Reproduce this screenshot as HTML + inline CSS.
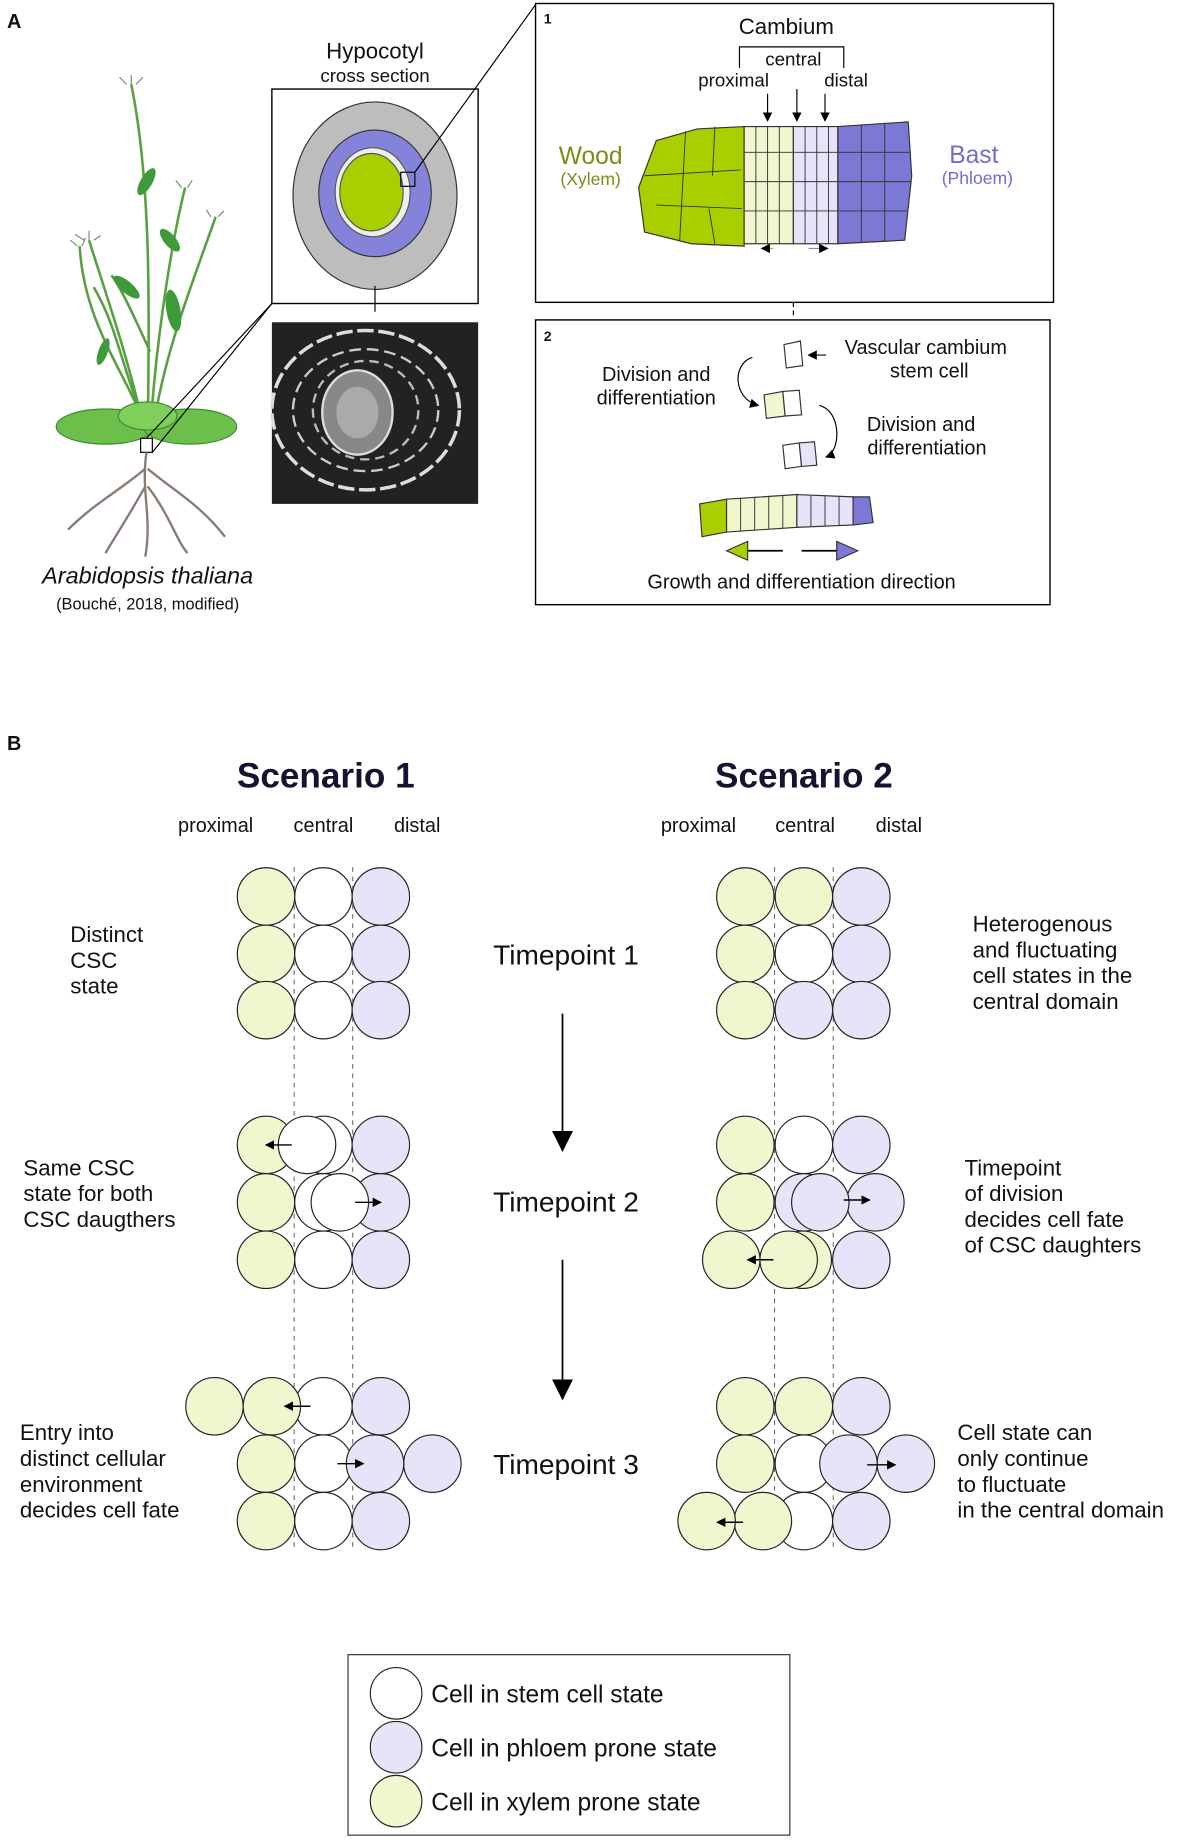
<!DOCTYPE html>
<html><head><meta charset="utf-8"><style>
html,body{margin:0;padding:0;background:#fff}
svg{display:block}
text{font-family:"Liberation Sans",sans-serif;fill:#111}
</style></head><body>
<svg width="1200" height="1841" viewBox="0 0 1024 1571" preserveAspectRatio="none" xmlns="http://www.w3.org/2000/svg">
<defs>
<marker id="ah" markerWidth="8" markerHeight="8" refX="7" refY="4" orient="auto" markerUnits="userSpaceOnUse"><path d="M0,0 L8,4 L0,8 z" fill="#000"/></marker>
<marker id="big" markerWidth="18" markerHeight="24" refX="17" refY="9" orient="auto" markerUnits="userSpaceOnUse"><path d="M0,0 L18,9 L0,18 z" fill="#000"/></marker>
</defs>
<rect width="1024" height="1571" fill="#fff"/>
<text x="6" y="24" font-size="17" font-weight="bold">A</text>
<text x="6" y="640" font-size="17" font-weight="bold">B</text>

<!-- plant -->
<g stroke="#5aa042" stroke-width="2.2" fill="none">
<path d="M126,370 C128,250 128,150 112,72"/>
<path d="M128,370 C134,280 148,200 158,160"/>
<path d="M124,370 C108,300 90,250 76,205"/>
<path d="M126,370 C110,320 72,280 68,210"/>
<path d="M130,370 C140,300 165,240 184,185"/>
<path d="M128,300 C110,260 100,240 95,235"/>
<path d="M126,370 C100,300 100,280 80,245"/>
</g>
<g stroke="#7a8a70" stroke-width="1" fill="none">
<path d="M108,72 l-6,-6 M112,72 l0,-8 M116,72 l6,-6 M72,205 l-8,-5 M76,205 l0,-8 M80,205 l6,-4 M155,160 l-5,-6 M160,160 l4,-6 M180,185 l-4,-6 M186,185 l5,-5 M66,210 l-6,-5 M70,210 l3,-7"/>
</g>
<g fill="#3f9a3b">
<ellipse cx="125" cy="155" rx="5" ry="13" transform="rotate(30 125 155)"/>
<ellipse cx="145" cy="205" rx="5" ry="12" transform="rotate(-40 145 205)"/>
<ellipse cx="148" cy="265" rx="6" ry="18" transform="rotate(-10 148 265)"/>
<ellipse cx="108" cy="245" rx="5" ry="14" transform="rotate(-50 108 245)"/>
<ellipse cx="88" cy="300" rx="4" ry="12" transform="rotate(20 88 300)"/>
</g>
<g fill="#6cbf4a" stroke="#3e8a33" stroke-width="1">
<ellipse cx="90" cy="364" rx="42" ry="15"/>
<ellipse cx="162" cy="364" rx="40" ry="15"/>
<ellipse cx="126" cy="355" rx="25" ry="12" fill="#7fcf5a"/>
</g>
<rect x="120" y="374" width="10" height="12" fill="none" stroke="#000"/>
<g stroke="#8a7a72" stroke-width="2" fill="none">
<path d="M125,386 C120,420 130,440 124,475"/>
<path d="M124,400 C100,420 80,430 58,452"/>
<path d="M126,400 C150,420 170,430 192,458"/>
<path d="M124,415 C110,440 100,455 90,472"/>
<path d="M126,415 C145,440 150,460 160,472"/>
</g>
<text x="126" y="498" font-size="20" font-style="italic" text-anchor="middle">Arabidopsis thaliana</text>
<text x="126" y="520" font-size="14" text-anchor="middle">(Bouché, 2018, modified)</text>

<!-- cross section -->
<text x="320" y="50" font-size="19" text-anchor="middle">Hypocotyl</text>
<text x="320" y="70" font-size="16" text-anchor="middle">cross section</text>
<rect x="232" y="76" width="176" height="183" fill="#fff" stroke="#000" stroke-width="1.2"/>
<ellipse cx="320" cy="167" rx="70" ry="80" fill="#bdbdbd" stroke="#333"/>
<ellipse cx="320" cy="165" rx="48" ry="54" fill="#8583d9" stroke="#333"/>
<ellipse cx="318" cy="164" rx="32" ry="38" fill="#eee" stroke="#555"/>
<ellipse cx="317" cy="164" rx="27" ry="33" fill="#a8cf00" stroke="#555"/>
<rect x="342" y="147" width="12" height="12" fill="none" stroke="#000"/>
<line x1="354" y1="147" x2="457" y2="4" stroke="#000"/>
<line x1="232" y1="259" x2="125" y2="374" stroke="#000"/>
<line x1="232" y1="259" x2="130" y2="386" stroke="#000"/>
<line x1="320" y1="244" x2="320" y2="266" stroke="#000"/>
<rect x="232" y="275" width="176" height="155" fill="#222"/>
<ellipse cx="312" cy="350" rx="80" ry="68" fill="none" stroke="#ddd" stroke-width="3" stroke-dasharray="14 4"/>
<ellipse cx="312" cy="350" rx="62" ry="52" fill="none" stroke="#ccc" stroke-width="2" stroke-dasharray="10 5"/>
<ellipse cx="312" cy="350" rx="45" ry="42" fill="none" stroke="#bbb" stroke-width="2" stroke-dasharray="8 5"/>
<ellipse cx="305" cy="352" rx="30" ry="36" fill="#888" stroke="#ddd" stroke-width="2"/>
<ellipse cx="305" cy="352" rx="18" ry="22" fill="#aaa"/>

<!-- box 1 -->
<rect x="457" y="3" width="442" height="255" fill="#fff" stroke="#000" stroke-width="1.2"/>
<text x="464" y="20" font-size="12" font-weight="bold">1</text>
<text x="671" y="29" font-size="19" text-anchor="middle">Cambium</text>
<path d="M631,58 V40 H720 V58" fill="none" stroke="#000"/>
<text x="677" y="56" font-size="16" text-anchor="middle">central</text>
<text x="626" y="74" font-size="16" text-anchor="middle">proximal</text>
<text x="722" y="74" font-size="16" text-anchor="middle">distal</text>
<line x1="655" y1="80" x2="655" y2="103" stroke="#000" marker-end="url(#ah)"/>
<line x1="680" y1="76" x2="680" y2="103" stroke="#000" marker-end="url(#ah)"/>
<line x1="704" y1="80" x2="704" y2="103" stroke="#000" marker-end="url(#ah)"/>
<text x="504" y="140" font-size="21" text-anchor="middle" style="fill:#7f8a18">Wood</text>
<text x="504" y="158" font-size="15" text-anchor="middle" style="fill:#7f8a18">(Xylem)</text>
<text x="831" y="139" font-size="21" text-anchor="middle" style="fill:#6f6cd4">Bast</text>
<text x="834" y="157" font-size="15" text-anchor="middle" style="fill:#6f6cd4">(Phloem)</text>
<path d="M560,120 L595,110 L635,108 L635,210 L590,208 L550,198 L545,160 Z" fill="#a8d000" stroke="#333"/>
<g stroke="#333" fill="none" stroke-width="0.8">
<path d="M585,112 L580,205 M550,150 L632,145 M560,175 L633,178 M610,108 L608,150 M605,178 L610,208"/>
</g>
<rect x="635" y="108" width="42" height="100" fill="#f1f6cf" stroke="#333"/>
<rect x="677" y="108" width="38" height="100" fill="#e9e3f9" stroke="#333"/>
<path d="M715,108 L775,104 L778,150 L772,205 L715,208 Z" fill="#7b78d6" stroke="#333"/>
<g stroke="#333" stroke-width="0.8">
<path d="M645,108V208 M655,108V208 M665,108V208 M687,108V208 M697,108V208 M707,108V208 M635,130H715 M635,155H715 M635,180H715"/>
<path d="M735,106V207 M755,105V206 M715,130H776 M715,155H777 M715,180H774" fill="none"/>
</g>
<line x1="660" y1="212" x2="650" y2="212" stroke="#a8d000" marker-end="url(#ah)"/>
<line x1="690" y1="212" x2="706" y2="212" stroke="#7b78d6" marker-end="url(#ah)"/>
<line x1="677" y1="258" x2="677" y2="272" stroke="#000" stroke-dasharray="4 3"/>

<!-- box 2 -->
<rect x="457" y="273" width="439" height="243" fill="#fff" stroke="#000" stroke-width="1.2"/>
<text x="464" y="291" font-size="12" font-weight="bold">2</text>
<text x="790" y="302" font-size="17" text-anchor="middle">Vascular cambium</text>
<text x="793" y="322" font-size="17" text-anchor="middle">stem cell</text>
<path d="M669,294 L683,291 L685,312 L671,314 Z" fill="#fff" stroke="#333"/>
<line x1="705" y1="303" x2="690" y2="303" stroke="#000" marker-end="url(#ah)"/>
<text x="560" y="325" font-size="17" text-anchor="middle">Division and</text>
<text x="560" y="345" font-size="17" text-anchor="middle">differentiation</text>
<path d="M642,305 C625,310 625,340 647,346" fill="none" stroke="#000" marker-end="url(#ah)"/>
<path d="M652,337 L668,334 L670,355 L654,357 Z" fill="#f1f6cf" stroke="#333"/>
<path d="M668,334 L682,333 L684,354 L670,355 Z" fill="#fff" stroke="#333"/>
<path d="M699,346 C718,350 718,385 705,390" fill="none" stroke="#000" marker-end="url(#ah)"/>
<text x="786" y="368" font-size="17" text-anchor="middle">Division and</text>
<text x="791" y="388" font-size="17" text-anchor="middle">differentiation</text>
<path d="M668,380 L682,378 L684,398 L670,400 Z" fill="#fff" stroke="#333"/>
<path d="M682,378 L695,377 L697,397 L684,398 Z" fill="#e9e3f9" stroke="#333"/>
<path d="M597,430 L620,426 L620,454 L599,458 Z" fill="#a8d000" stroke="#333"/>
<path d="M620,426 L680,422 L680,450 L620,454 Z" fill="#f1f6cf" stroke="#333"/>
<path d="M680,422 L728,424 L728,448 L680,450 Z" fill="#e9e3f9" stroke="#333"/>
<path d="M728,424 L742,424 L745,446 L728,448 Z" fill="#7b78d6" stroke="#333"/>
<g stroke="#333" stroke-width="0.8"><path d="M632,425V453 M644,424V452 M656,423V451 M668,423V451 M692,423V449 M704,423V449 M716,424V448"/></g>
<line x1="668" y1="470" x2="622" y2="470" stroke="#000" stroke-width="1.5"/>
<path d="M620,470 L638,462 L638,478 Z" fill="#a8d000" stroke="#333"/>
<line x1="684" y1="470" x2="730" y2="470" stroke="#000" stroke-width="1.5"/>
<path d="M732,470 L714,462 L714,478 Z" fill="#7b78d6" stroke="#333"/>
<text x="684" y="502" font-size="17" text-anchor="middle">Growth and differentiation direction</text>

<!-- Part B -->
<text x="278" y="672" font-size="30" font-weight="bold" text-anchor="middle" style="fill:#1a1030">Scenario 1</text>
<text x="686" y="672" font-size="30" font-weight="bold" text-anchor="middle" style="fill:#1a1030">Scenario 2</text>
<g font-size="17">
<text x="184" y="710" text-anchor="middle">proximal</text><text x="276" y="710" text-anchor="middle">central</text><text x="356" y="710" text-anchor="middle">distal</text>
<text x="596" y="710" text-anchor="middle">proximal</text><text x="687" y="710" text-anchor="middle">central</text><text x="767" y="710" text-anchor="middle">distal</text>
</g>
<g stroke="#555" stroke-width="0.8" stroke-dasharray="4 4">
<line x1="251" y1="740" x2="251" y2="1322"/><line x1="301" y1="740" x2="301" y2="1322"/>
<line x1="661" y1="740" x2="661" y2="1322"/><line x1="711" y1="740" x2="711" y2="1322"/>
</g>
<g stroke="#222" stroke-width="1">
<circle cx="227" cy="765" r="24.5" fill="#f1f6cf"/><circle cx="276" cy="765" r="24.5" fill="#fff"/><circle cx="325" cy="765" r="24.5" fill="#e9e3f9"/>
<circle cx="227" cy="814" r="24.5" fill="#f1f6cf"/><circle cx="276" cy="814" r="24.5" fill="#fff"/><circle cx="325" cy="814" r="24.5" fill="#e9e3f9"/>
<circle cx="227" cy="862" r="24.5" fill="#f1f6cf"/><circle cx="276" cy="862" r="24.5" fill="#fff"/><circle cx="325" cy="862" r="24.5" fill="#e9e3f9"/>
<circle cx="636" cy="765" r="24.5" fill="#f1f6cf"/><circle cx="686" cy="765" r="24.5" fill="#f1f6cf"/><circle cx="735" cy="765" r="24.5" fill="#e9e3f9"/>
<circle cx="636" cy="814" r="24.5" fill="#f1f6cf"/><circle cx="686" cy="814" r="24.5" fill="#fff"/><circle cx="735" cy="814" r="24.5" fill="#e9e3f9"/>
<circle cx="636" cy="862" r="24.5" fill="#f1f6cf"/><circle cx="686" cy="862" r="24.5" fill="#e9e3f9"/><circle cx="735" cy="862" r="24.5" fill="#e9e3f9"/>
<circle cx="227" cy="977" r="24.5" fill="#f1f6cf"/><circle cx="276" cy="977" r="24.5" fill="#fff"/><circle cx="262" cy="977" r="24.5" fill="#fff"/><circle cx="325" cy="977" r="24.5" fill="#e9e3f9"/>
<circle cx="227" cy="1026" r="24.5" fill="#f1f6cf"/><circle cx="325" cy="1026" r="24.5" fill="#e9e3f9"/><circle cx="276" cy="1026" r="24.5" fill="#fff"/><circle cx="290" cy="1026" r="24.5" fill="#fff"/>
<circle cx="227" cy="1075" r="24.5" fill="#f1f6cf"/><circle cx="276" cy="1075" r="24.5" fill="#fff"/><circle cx="325" cy="1075" r="24.5" fill="#e9e3f9"/>
<circle cx="636" cy="977" r="24.5" fill="#f1f6cf"/><circle cx="686" cy="977" r="24.5" fill="#fff"/><circle cx="735" cy="977" r="24.5" fill="#e9e3f9"/>
<circle cx="636" cy="1026" r="24.5" fill="#f1f6cf"/><circle cx="686" cy="1026" r="24.5" fill="#e9e3f9"/><circle cx="747" cy="1026" r="24.5" fill="#e9e3f9"/><circle cx="700" cy="1026" r="24.5" fill="#e9e3f9"/>
<circle cx="735" cy="1075" r="24.5" fill="#e9e3f9"/><circle cx="685" cy="1075" r="24.5" fill="#f1f6cf"/><circle cx="673" cy="1075" r="24.5" fill="#f1f6cf"/><circle cx="624" cy="1075" r="24.5" fill="#f1f6cf"/>
<circle cx="183" cy="1200" r="24.5" fill="#f1f6cf"/><circle cx="276" cy="1200" r="24.5" fill="#fff"/><circle cx="232" cy="1200" r="24.5" fill="#f1f6cf"/><circle cx="325" cy="1200" r="24.5" fill="#e9e3f9"/>
<circle cx="227" cy="1249" r="24.5" fill="#f1f6cf"/><circle cx="276" cy="1249" r="24.5" fill="#fff"/><circle cx="369" cy="1249" r="24.5" fill="#e9e3f9"/><circle cx="320" cy="1249" r="24.5" fill="#e9e3f9"/>
<circle cx="227" cy="1298" r="24.5" fill="#f1f6cf"/><circle cx="276" cy="1298" r="24.5" fill="#fff"/><circle cx="325" cy="1298" r="24.5" fill="#e9e3f9"/>
<circle cx="636" cy="1200" r="24.5" fill="#f1f6cf"/><circle cx="686" cy="1200" r="24.5" fill="#f1f6cf"/><circle cx="735" cy="1200" r="24.5" fill="#e9e3f9"/>
<circle cx="636" cy="1249" r="24.5" fill="#f1f6cf"/><circle cx="686" cy="1249" r="24.5" fill="#fff"/><circle cx="773" cy="1249" r="24.5" fill="#e9e3f9"/><circle cx="724" cy="1249" r="24.5" fill="#e9e3f9"/>
<circle cx="686" cy="1298" r="24.5" fill="#fff"/><circle cx="735" cy="1298" r="24.5" fill="#e9e3f9"/><circle cx="651" cy="1298" r="24.5" fill="#f1f6cf"/><circle cx="603" cy="1298" r="24.5" fill="#f1f6cf"/>
</g>
<g stroke="#000" stroke-width="1.2">
<line x1="249" y1="977" x2="227" y2="977" marker-end="url(#ah)"/>
<line x1="303" y1="1026" x2="325" y2="1026" marker-end="url(#ah)"/>
<line x1="720" y1="1024" x2="742" y2="1024" marker-end="url(#ah)"/>
<line x1="660" y1="1075" x2="638" y2="1075" marker-end="url(#ah)"/>
<line x1="265" y1="1200" x2="243" y2="1200" marker-end="url(#ah)"/>
<line x1="288" y1="1249" x2="310" y2="1249" marker-end="url(#ah)"/>
<line x1="740" y1="1250" x2="764" y2="1250" marker-end="url(#ah)"/>
<line x1="634" y1="1299" x2="612" y2="1299" marker-end="url(#ah)"/>
<line x1="480" y1="865" x2="480" y2="982" stroke-width="1.5" marker-end="url(#big)"/>
<line x1="480" y1="1075" x2="480" y2="1194" stroke-width="1.5" marker-end="url(#big)"/>
</g>
<g font-size="24" text-anchor="middle">
<text x="483" y="823">Timepoint 1</text><text x="483" y="1034">Timepoint 2</text><text x="483" y="1258">Timepoint 3</text>
</g>
<g font-size="19">
<text x="60" y="804">Distinct</text><text x="60" y="826">CSC</text><text x="60" y="848">state</text>
<text x="20" y="1003">Same CSC</text><text x="20" y="1025">state for both</text><text x="20" y="1047">CSC daugthers</text>
<text x="17" y="1229">Entry into</text><text x="17" y="1251">distinct cellular</text><text x="17" y="1273">environment</text><text x="17" y="1295">decides cell fate</text>
<text x="830" y="795">Heterogenous</text><text x="830" y="817">and fluctuating</text><text x="830" y="839">cell states in the</text><text x="830" y="861">central domain</text>
<text x="823" y="1003">Timepoint</text><text x="823" y="1025">of division</text><text x="823" y="1047">decides cell fate</text><text x="823" y="1069">of CSC daughters</text>
<text x="817" y="1229">Cell state can</text><text x="817" y="1251">only continue</text><text x="817" y="1273">to fluctuate</text><text x="817" y="1295">in the central domain</text>
</g>
<rect x="297" y="1412" width="377" height="154" fill="#fff" stroke="#333"/>
<g stroke="#222"><circle cx="338" cy="1445" r="22" fill="#fff"/><circle cx="338" cy="1491" r="22" fill="#e9e3f9"/><circle cx="338" cy="1537" r="22" fill="#f1f6cf"/></g>
<g font-size="21"><text x="368" y="1453">Cell in stem cell state</text><text x="368" y="1499">Cell in phloem prone state</text><text x="368" y="1545">Cell in xylem prone state</text></g>
</svg>
</body></html>
